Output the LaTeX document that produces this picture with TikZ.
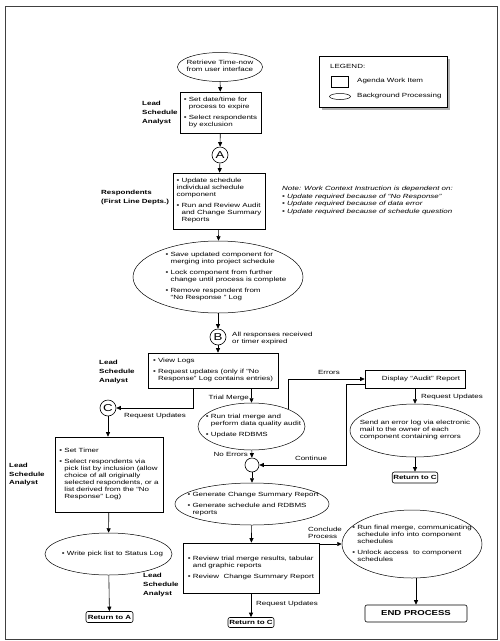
\documentclass[tikz,border=0pt]{standalone}
\usepackage{fontspec}
\setmainfont{Liberation Sans}[FakeStretch=1.33]
\usetikzlibrary{shapes.geometric,arrows.meta,shadows}
\setlength{\parindent}{0pt}
\newcommand{\bu}{\textbullet&}
\newcommand{\fl}[1]{\multicolumn{2}{@{}l@{}}{#1}}
\newcommand{\items}[1]{\begin{tabular}{@{}l@{\ }l@{}}#1\end{tabular}}
\newcommand{\inell}[2][0pt]{\makebox[0pt]{\hspace*{#1}#2}}
\begin{document}
\begin{tikzpicture}[x=1pt,y=-1pt,font=\fontsize{6}{7}\selectfont,>={Triangle[length=4.5pt,width=4pt]}]
    \tikzstyle{work}=[rectangle,draw,line width=0.6pt,inner sep=2pt]
    \tikzstyle{backg}=[ellipse,draw,line width=0.5pt,inner sep=0pt]
    \tikzstyle{conn}=[circle,draw,line width=0.6pt,inner sep=0pt,minimum size=16pt,font=\fontsize{10}{11}\selectfont]
    \tikzstyle{ret}=[rectangle,rounded corners=2pt,draw,line width=0.6pt,inner sep=1pt,font=\fontsize{6}{7}\selectfont\bfseries]
    \tikzstyle{role}=[align=left,inner sep=0pt,anchor=west,font=\fontsize{6}{8.8}\selectfont\bfseries]
    \tikzstyle{lbl}=[inner sep=0pt]
    \tikzstyle{flow}=[->,line width=0.6pt]
    \useasboundingbox (0,0) rectangle (500,641);
    \draw[black!75,line width=0.8pt] (5,6) rectangle (497,639);
    % legend
    \node[rectangle,draw,line width=0.6pt,fill=white,minimum width=128pt,minimum height=51pt,
          drop shadow={shadow xshift=3pt,shadow yshift=-3pt,fill=gray!60,opacity=1}] (legend) at (383,81.5) {};
    \node[lbl,anchor=west] (legtitle) at (330,66) {LEGEND:};
    \node[rectangle,draw,line width=0.5pt,inner sep=0pt,minimum width=17pt,minimum height=11pt] (legwork) at (339.5,81.5) {};
    \node[lbl,anchor=west] (legworktxt) at (357,81) {Agenda Work Item};
    \node[ellipse,draw,line width=0.5pt,inner sep=0pt,minimum width=21pt,minimum height=6pt] (legback) at (340,96.5) {};
    \node[lbl,anchor=west] (legbacktxt) at (357,96) {Background Processing};
    \node[lbl,anchor=north west,align=left,font=\fontsize{6}{7.6}\selectfont\itshape] (note) at (282,186)
         {Note: Work Context Instruction is dependent on:\\
          \textbullet\ Update required because of “No Response”\\
          \textbullet\ Update required because of data error\\
          \textbullet\ Update required because of schedule question};
    % roles
    \node[role] (role1) at (142,113) {Lead\\Schedule\\Analyst};
    \node[role] (role2) at (101,197.5) {Respondents\\(First Line Depts.)};
    \node[role] (role3) at (99,372) {Lead\\Schedule\\Analyst};
    \node[role] (role4) at (9,474.5) {Lead\\Schedule\\Analyst};
    \node[role] (role5) at (143,585) {Lead\\Schedule\\Analyst};
    % work items and background processing
    \node[backg,minimum width=85pt,minimum height=29pt] (retrieve) at (220,67)
         {\inell{\begin{tabular}{@{}l@{}}Retrieve Time-now\\from user interface\end{tabular}}};
    \node[work,minimum width=81pt,minimum height=41pt] (settime) at (220.5,112.5)
         {\items{\bu Set date/time for\\ & process to expire\\[4pt] \bu Select respondents\\ & by exclusion}};
    \node[conn] (A) at (220,155) {A};
    \node[work,minimum width=92pt,minimum height=56pt] (update) at (219,201)
         {\items{\bu Update schedule\\ \fl{individual schedule}\\ \fl{component}\\[4pt]
                 \bu Run and Review Audit\\ & and Change Summary\\ & Reports}};
    \node[backg,minimum width=170pt,minimum height=72pt] (save) at (218,277)
         {\inell[16pt]{\items{\bu Save updated component for\\ & merging into project schedule\\[4pt]
                        \bu Lock component from further\\ & change until process is complete\\[4pt]
                        \bu Remove respondent from\\ & “No Response ” Log}}};
    \node[conn] (B) at (218,337) {B};
    \node[work,minimum width=130pt,minimum height=35pt] (logs) at (213,370.5)
         {\items{\bu View Logs\\[4pt] \bu Request updates (only if “No\\ & Response” Log contains entries)}};
    \node[conn] (C) at (108,408) {C};
    \node[work,minimum width=108pt,minimum height=75pt] (timer) at (109,474.5)
         {\items{\bu Set Timer\\[4pt] \bu Select respondents via\\ & pick list by inclusion (allow\\
                 & choice of all originally\\ & selected respondents, or a\\ & list derived from the “No\\
                 & Response” Log)}};
    \node[backg,minimum width=127pt,minimum height=42pt] (writepick) at (108.5,554)
         {\inell[8pt]{\textbullet\ Write pick list to Status Log}};
    \node[ret,minimum width=47pt,minimum height=11pt] (retA) at (109.5,617) {Return to A};
    \node[backg,minimum width=107pt,minimum height=47pt] (trial) at (251.5,426.5)
         {\inell[4pt]{\items{\bu Run trial merge and\\ & perform data quality audit\\[4pt] \bu Update RDBMS}}};
    \node[work,minimum width=100pt,minimum height=18pt] (audit) at (415,379) {\hspace*{12pt}Display “Audit” Report};
    \node[backg,minimum width=130pt,minimum height=53pt] (errlog) at (415,430.5)
         {\inell{\begin{tabular}{@{}l@{}}Send an error log via electronic\\mail to the owner of each\\component containing errors\end{tabular}}};
    \node[ret,minimum width=44pt,minimum height=11pt] (retC1) at (415,477.5) {Return to C};
    \node[conn,minimum size=14pt] (junc) at (252,465) {};
    \node[backg,minimum width=154pt,minimum height=42pt] (gen) at (252,504)
         {\inell[2pt]{\items{\bu Generate Change Summary Report\\[4pt] \bu Generate schedule and RDBMS\\ & reports}}};
    \node[work,minimum width=136pt,minimum height=50pt] (review) at (251,568)
         {\items{\bu Review trial merge results, tabular\\ & and graphic reports\\[4pt] \bu Review\ \ Change Summary Report}};
    \node[ret,minimum width=46pt,minimum height=10pt] (retC2) at (251,622.5) {Return to C};
    \node[backg,minimum width=140pt,minimum height=68pt] (final) at (412,544)
         {\inell{\items{\bu Run final merge, communicating\\ & schedule info into component\\ & schedules\\[4pt]
                        \bu Unlock access\ \ to component\\ & schedules}}};
    \node[ret,minimum width=102pt,minimum height=17pt,font=\fontsize{7.2}{8}\selectfont\bfseries] (endproc) at (416,613.5) {END PROCESS};
    % connector labels
    \node[lbl,anchor=west,align=left] (allresp) at (232,338) {All responses received\\or timer expired};
    \node[lbl,anchor=west] (requpC) at (124,416) {Request Updates};
    \node[lbl,anchor=east] (trialmerge) at (249,398) {Trial Merge};
    \node[lbl] (errors) at (329,372) {Errors};
    \node[lbl,anchor=west] (requpA) at (421,397) {Request Updates};
    \node[lbl] (continue) at (311,458) {Continue};
    \node[lbl,anchor=east] (noerr) at (248,454) {No Errors};
    \node[lbl,anchor=west] (requpR) at (256,604) {Request Updates};
    \node[lbl,anchor=west,align=left] (conclude) at (308,533) {Conclude\\Process};
    % connectors
    \draw[flow] (retrieve) -- (settime);
    \draw[flow] (settime) -- (A);
    \draw[flow] (A) -- (update);
    \draw[flow] (update) -- (save);
    \draw[flow] (save) -- (B);
    \draw[flow] (B) -- (B |- logs.north);
    \draw[flow] ([xshift=-20pt]logs.south) |- (C);
    \draw[flow] (C) -- (C |- timer.north);
    \draw[flow] (timer) -- (writepick);
    \draw[flow] (writepick) -- (retA);
    \draw[flow] (trial.north |- logs.south) -- (trial);
    \draw[flow] (trial.25) |- (audit.west);
    \draw[flow] (audit) -- (errlog);
    \draw[flow] (errlog) -- (retC1);
    \draw[flow] ([yshift=-5pt]audit.west) -- ++(-18,0) |- (junc);
    \draw[flow] (trial) -- (junc);
    \draw[flow] (junc) -- (gen);
    \draw[flow] (gen) -- (review);
    \draw[flow] (review) -- (retC2);
    \draw[flow] (review.east |- final.west) -- (final.west);
    \draw[flow] (endproc.north |- final.south) -- (endproc.north);
\end{tikzpicture}
\end{document}
